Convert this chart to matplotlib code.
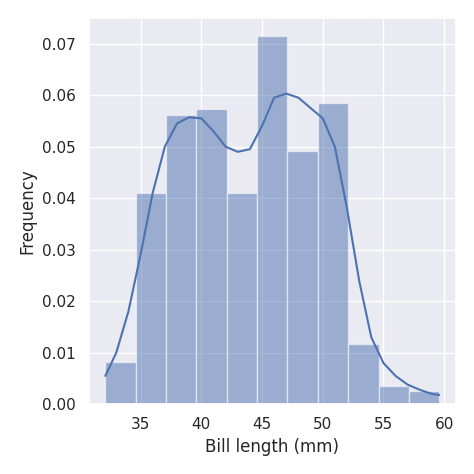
import matplotlib
matplotlib.use("Agg")
import matplotlib.pyplot as plt
import numpy as np
import seaborn as sns

# histogram bins (density)
bin_edges = np.linspace(32.1, 59.6, 12)
bin_heights = [0.0082, 0.0410, 0.0562, 0.0574, 0.0410, 0.0714, 0.0492, 0.0585, 0.0117, 0.0035, 0.0025]

# kde curve
kde_x = [32.1, 33, 34, 35, 36, 37, 38, 39, 40, 41, 42, 43, 44, 45, 46, 47, 48, 49,
         50, 51, 52, 53, 54, 55, 56, 57, 58, 59, 59.6]
kde_y = [0.0055, 0.010, 0.018, 0.029, 0.041, 0.050, 0.0545, 0.0557, 0.0555, 0.053,
         0.0500, 0.0490, 0.0495, 0.054, 0.0595, 0.0603, 0.0595, 0.0575, 0.0555, 0.050,
         0.038, 0.024, 0.013, 0.008, 0.0055, 0.0038, 0.0028, 0.0020, 0.0018]

sns.set_theme(style="darkgrid")
fig, ax = plt.subplots(figsize=(4.74, 4.74), dpi=100)

widths = np.diff(bin_edges)
ax.bar(bin_edges[:-1], bin_heights, width=widths, align="edge",
       color="#4c72b0", alpha=0.5, edgecolor="white", linewidth=1)
ax.plot(kde_x, kde_y, color="#4c72b0", linewidth=1.5)

ax.set_xlabel("Bill length (mm)")
ax.set_ylabel("Frequency")
ax.set_xticks([35, 40, 45, 50, 55, 60])

fig.tight_layout()
fig.savefig("out.png", dpi=100)
